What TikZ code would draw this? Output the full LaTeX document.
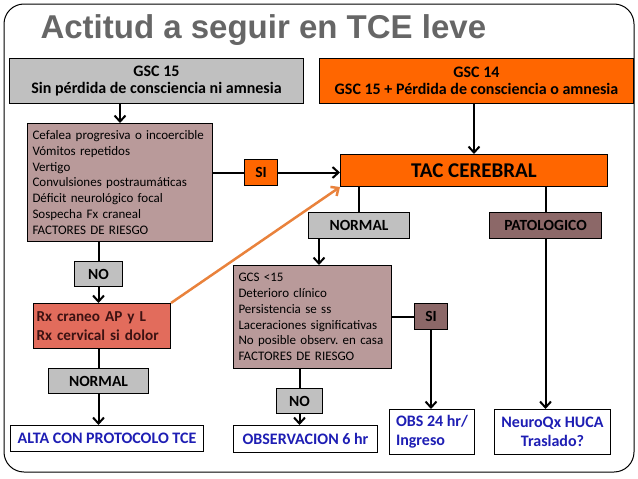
\documentclass[tikz,border=0pt]{standalone}
\usepackage{fontspec}
\setmainfont{Carlito}
\newfontfamily\titlefont{Liberation Sans}
\usetikzlibrary{positioning, arrows.meta, calc}
\definecolor{naranja}{RGB}{255,102,0}
\definecolor{gris}{RGB}{192,192,192}
\definecolor{rosa}{RGB}{185,154,154}
\definecolor{marron}{RGB}{140,104,104}
\definecolor{salmon}{RGB}{226,108,92}
\definecolor{rxtexto}{RGB}{60,18,18}
\definecolor{azul}{RGB}{30,30,180}
\definecolor{textogris}{RGB}{102,102,102}
\definecolor{flecha}{RGB}{233,130,60}
\frenchspacing

\begin{document}
\begin{tikzpicture}[x=1pt, y=-1pt,
        box/.style={rectangle, draw=black, line width=1pt, anchor=north west,
            inner sep=0pt, align=center, font=\bfseries\fontsize{15.5}{18}\selectfont},
        listbox/.style={box, fill=rosa, align=left, inner xsep=5pt,
            font=\fontsize{13}{15.8}\selectfont},
        endbox/.style={box, fill=white, text=azul,
            font=\bfseries\fontsize{16}{19}\selectfont},
        titulo/.style={anchor=base west, text=textogris,
            font=\titlefont\bfseries\fontsize{33}{36}\selectfont},
        link/.style={line width=2pt},
        arrow/.style={link, -{Straight Barb[length=6pt, width=11pt]}},
        salto/.style={line width=2.5pt, color=flecha, -{Straight Barb[length=6pt, width=11pt]}}
        ]
        \useasboundingbox (0,0) rectangle (638,479);
        \draw[line width=1pt, rounded corners=20pt] (4,4) rectangle (634,472);

        \node[titulo] (title) at (37,38) {Actitud a seguir en TCE leve};

        \node[box, fill=gris, minimum width=294pt, minimum height=45pt,
            font=\bfseries\fontsize{16}{17}\selectfont] (gsc15) at (9,58)
        {GSC 15\\Sin pérdida de consciencia ni amnesia};
        \node[box, fill=naranja, minimum width=314pt, minimum height=45pt,
            font=\bfseries\fontsize{16}{17}\selectfont] (gsc14) at (319,58)
        {GSC 14\\GSC 15 + Pérdida de consciencia o amnesia};

        \node[listbox, text width=175pt, minimum height=118pt] (sintomas) at (27,123)
        {Cefalea progresiva o incoercible\\Vómitos repetidos\\Vertigo\\Convulsiones postraumáticas\\Déficit neurológico focal\\Sospecha Fx craneal\\FACTORES DE RIESGO};
        \node[box, fill=naranja, minimum width=33pt, minimum height=26pt] (siA) at (244,159) {SI};
        \node[box, fill=naranja, minimum width=267pt, minimum height=32pt,
            font=\bfseries\fontsize{21}{24}\selectfont] (tac) at (340,154) {TAC CEREBRAL};

        \node[box, fill=gris, minimum width=101pt, minimum height=26pt] (normalA) at (308,212) {NORMAL};
        \node[box, fill=marron, minimum width=112pt, minimum height=26pt] (patol) at (489,212) {PATOLOGICO};

        \node[listbox, text width=148pt, minimum height=103pt] (criterios) at (233,265)
        {GCS <15\\Deterioro clínico\\Persistencia se ss\\Laceraciones significativas\\No posible observ. en casa\\FACTORES DE RIESGO};
        \node[box, fill=marron, minimum width=33pt, minimum height=26pt] (siB) at (414,303) {SI};
        \node[box, fill=gris, minimum width=46pt, minimum height=25pt] (noB) at (276,388) {NO};

        \node[endbox, minimum width=144pt, minimum height=27pt] (obs6) at (233,425) {OBSERVACION 6 hr};
        \node[endbox, align=left, minimum width=85pt, minimum height=45pt] (obs24) at (389,409)
        {OBS 24 hr/\\Ingreso};
        \node[endbox, minimum width=116pt, minimum height=45pt] (neuro) at (494,409)
        {NeuroQx HUCA\\Traslado?};

        \node[box, fill=gris, minimum width=48pt, minimum height=25pt] (noA) at (74,261) {NO};
        \node[box, fill=salmon, text=rxtexto, align=left, text width=131pt, inner xsep=3pt,
            minimum height=45pt, font=\bfseries\fontsize{15.2}{19}\selectfont] (rx) at (33,303)
        {Rx craneo AP y L\\Rx cervical si dolor};
        \node[box, fill=gris, minimum width=100pt, minimum height=25pt] (normalB) at (48,368) {NORMAL};
        \node[endbox, minimum width=193pt, minimum height=26pt] (alta) at (10,425) {ALTA CON PROTOCOLO TCE};

        \draw[arrow] (gsc15.south -| sintomas.north) -- (sintomas.north);
        \draw[arrow] (gsc14.south -| tac.north) -- (tac.north);
        \draw[link] (sintomas.east |- siA.west) -- (siA.west);
        \draw[arrow] (siA.east) -- (siA.east -| tac.west);
        \draw[link] (tac.south -| normalA.north) -- (normalA.north);
        \draw[link] (tac.south -| patol.north) -- (patol.north);
        \coordinate (bajada) at ([xshift=11pt]normalA.south west);
        \draw[arrow] (bajada) -- (bajada |- criterios.north);
        \draw[arrow] (patol.south) -- (patol.south |- neuro.north);
        \draw[link] (criterios.east |- siB.west) -- (siB.west);
        \draw[arrow] (siB.south) -- (siB.south |- obs24.north);
        \draw[link] (noB.north |- criterios.south) -- (noB.north);
        \draw[arrow] (noB.south) -- (noB.south |- obs6.north);
        \draw[link] (noA.north |- sintomas.south) -- (noA.north);
        \draw[arrow] (noA.south) -- (noA.south |- rx.north);
        \draw[link] (normalB.north |- rx.south) -- (normalB.north);
        \draw[arrow] (normalB.south) -- (normalB.south |- alta.north);
        \draw[salto] (rx.north east) -- (tac.south west);
    \end{tikzpicture}
\end{document}
